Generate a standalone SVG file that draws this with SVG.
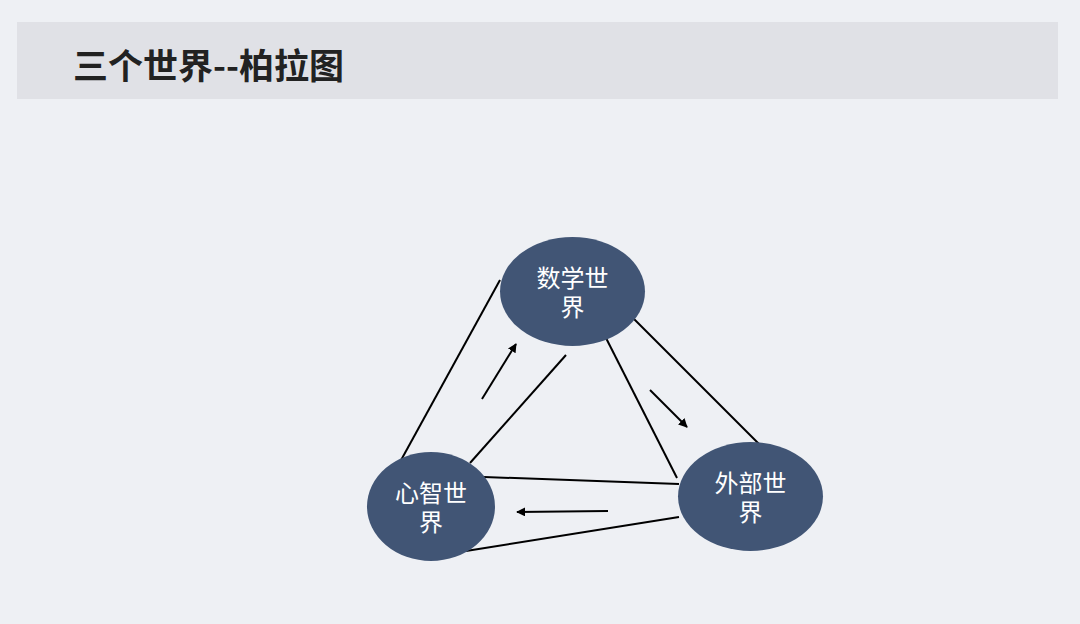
<svg xmlns="http://www.w3.org/2000/svg" width="1080" height="624" viewBox="0 0 1080 624">
<style>
.bg{fill:#eef0f4}
.band{fill:#e0e1e6}
.title{font-family:"Noto Sans CJK SC","Noto Sans",sans-serif;font-weight:bold;font-size:35px;fill:#222222}
.node{fill:#415575}
.lbl{font-family:"Liberation Sans","Noto Sans CJK SC",sans-serif;font-size:24px;fill:#ffffff;text-anchor:middle}
.ln{stroke:#000000;stroke-width:2;fill:none}
.ar{stroke:#000000;stroke-width:2;fill:none;marker-end:url(#ah)}
</style>
<defs>
<marker id="ah" viewBox="0 0 10 10" refX="9" refY="5" markerWidth="4.5" markerHeight="4.5" orient="auto" markerUnits="strokeWidth">
<path d="M0,0 L10,5 L0,10 z" fill="#000000"/>
</marker>
</defs>
<rect class="bg" x="0" y="0" width="1080" height="624"/>
<g id="header">
<rect class="band" x="17" y="22" width="1041" height="77"/>
<text class="title" x="73" y="79">三个世界--柏拉图</text>
</g>
<g id="connectors">
<line class="ln" x1="500" y1="280" x2="400" y2="462"/>
<line class="ar" x1="482" y1="399" x2="516" y2="344"/>
<line class="ln" x1="566" y1="355" x2="470" y2="463"/>
<line class="ln" x1="606" y1="338" x2="677" y2="478"/>
<line class="ln" x1="633" y1="318" x2="759" y2="444"/>
<line class="ar" x1="650" y1="390" x2="687" y2="427"/>
<line class="ln" x1="484" y1="477" x2="679" y2="484"/>
<line class="ar" x1="608" y1="511" x2="517" y2="512"/>
<line class="ln" x1="679" y1="517" x2="466" y2="551"/>
</g>
<g id="math">
<ellipse class="node" cx="572.5" cy="291.5" rx="72.5" ry="54.5"/>
<text class="lbl" x="572.5" y="287">数学世</text>
<text class="lbl" x="572.5" y="316">界</text>
</g>
<g id="mind">
<ellipse class="node" cx="431" cy="506.5" rx="64" ry="54.5"/>
<text class="lbl" x="431" y="502">心智世</text>
<text class="lbl" x="431" y="531">界</text>
</g>
<g id="external">
<ellipse class="node" cx="750.5" cy="496.5" rx="72.5" ry="54.5"/>
<text class="lbl" x="750.5" y="492">外部世</text>
<text class="lbl" x="750.5" y="521">界</text>
</g>
</svg>
